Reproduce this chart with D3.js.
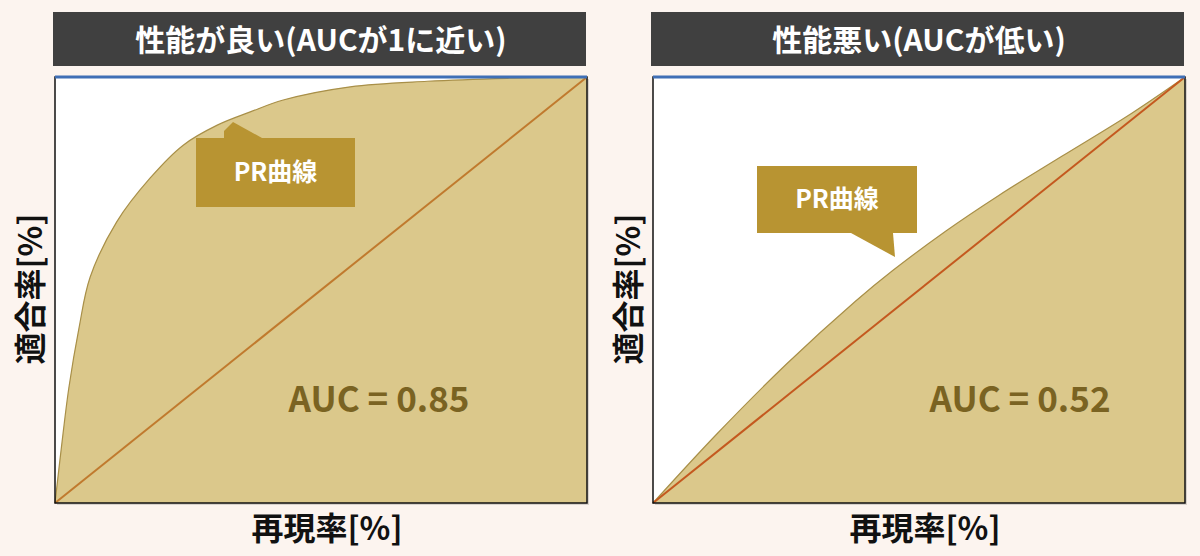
<!DOCTYPE html>
<html>
<head>
<meta charset="utf-8">
<script src="https://cdn.jsdelivr.net/npm/d3@7"></script>
<style>
  html, body { margin: 0; padding: 0; background: #fcf4ef; }
  svg { display: block; }
  text { font-family: "Noto Sans CJK JP", "Noto Sans", sans-serif; font-weight: 700; }
</style>
</head>
<body>
<div id="viz"></div>
<script>
// panel titles and labels
const titles = ['性能が良い(AUCが1に近い)', '性能悪い(AUCが低い)'];
const aucLabels = ['AUC = 0.85', 'AUC = 0.52'];
const xLabel = '再現率[%]';
const yLabel = '適合率[%]';
const calloutLabel = 'PR曲線';

// good model PR curve (recall, precision as fractions)
const goodRecall = [0, 0.012, 0.026, 0.045, 0.066, 0.116, 0.179, 0.241, 0.305, 0.367, 0.429, 0.555, 0.7, 0.85, 1];
const goodPrecision = [0, 0.13, 0.27, 0.41, 0.53, 0.66, 0.763, 0.84, 0.887, 0.918, 0.946, 0.977, 0.99, 0.997, 1];

// poor model PR curve
const badRecall = [0, 0.12, 0.25, 0.38, 0.45, 0.55, 0.65, 0.77, 0.9, 1];
const badPrecision = [0, 0.162, 0.325, 0.473, 0.545, 0.638, 0.722, 0.815, 0.915, 1];

// reference lines
const diagRecall = [0, 1];
const diagPrecision = [0, 1];
const perfectRecall = [0, 1];
const perfectPrecision = [1, 1];

const width = 1200,
    height = 556;

const svg = d3.select('#viz').append('svg')
    .attr('width', width)
    .attr('height', height);

const zip = (xs, ys) => xs.map((x, i) => ({ x: x, y: ys[i] }));

const panels = [
    { left: 55, curve: zip(goodRecall, goodPrecision), diagColor: '#c07a2e', aucAt: 0.609,
      box: [196, 138, 159, 69], pointer: [[224, 138], [224, 131], [233, 122], [262, 138]] },
    { left: 653, curve: zip(badRecall, badPrecision), diagColor: '#c4591f', aucAt: 0.69,
      box: [757, 166, 160, 67], pointer: [[851, 233], [893, 233], [895, 257]] }
];

const plotTop = 77,
    plotBottom = 503,
    plotWidth = 532;

function drawPanel(p, i) {
    const x = d3.scaleLinear().domain([0, 1]).range([p.left, p.left + plotWidth]);
    const y = d3.scaleLinear().domain([0, 1]).range([plotBottom, plotTop]);
    const g = svg.append('g');
    const mid = p.left + plotWidth / 2;

    // title bar
    g.append('rect')
        .attr('x', p.left - 2)
        .attr('y', 12)
        .attr('width', plotWidth + 1)
        .attr('height', 54)
        .attr('fill', '#404040');

    g.append('text')
        .attr('x', mid)
        .attr('y', 40)
        .attr('dy', '0.35em')
        .attr('text-anchor', 'middle')
        .attr('fill', '#fff')
        .attr('font-size', 30)
        .text(titles[i]);

    // plot frame shadow + background
    g.append('rect')
        .attr('x', x(0) + 2)
        .attr('y', y(1) + 2)
        .attr('width', plotWidth)
        .attr('height', plotBottom - plotTop)
        .attr('fill', '#d8d2cc');

    g.append('rect')
        .attr('x', x(0))
        .attr('y', y(1))
        .attr('width', plotWidth)
        .attr('height', plotBottom - plotTop)
        .attr('fill', '#fff');

    const area = d3.area()
        .x(d => x(d.x))
        .y0(y(0))
        .y1(d => y(d.y))
        .curve(d3.curveCatmullRom.alpha(0.5));

    const line = d3.line()
        .x(d => x(d.x))
        .y(d => y(d.y))
        .curve(d3.curveCatmullRom.alpha(0.5));

    g.append('path')
        .attr('d', area(p.curve))
        .attr('fill', '#dbc88b');

    g.append('path')
        .attr('d', line(p.curve))
        .attr('fill', 'none')
        .attr('stroke', '#a88f48')
        .attr('stroke-width', 1.2);

    g.append('path')
        .attr('d', d3.line().x(d => x(d.x)).y(d => y(d.y))(zip(diagRecall, diagPrecision)))
        .attr('stroke', p.diagColor)
        .attr('stroke-width', 2);

    // frame
    g.append('rect')
        .attr('x', x(0))
        .attr('y', y(1))
        .attr('width', plotWidth)
        .attr('height', plotBottom - plotTop)
        .attr('fill', 'none')
        .attr('stroke', '#111')
        .attr('stroke-width', 1.5);

    g.append('path')
        .attr('d', d3.line().x(d => x(d.x)).y(d => y(d.y))(zip(perfectRecall, perfectPrecision)))
        .attr('stroke', '#3f6fb6')
        .attr('stroke-width', 3);

    // callout
    g.append('rect')
        .attr('x', p.box[0])
        .attr('y', p.box[1])
        .attr('width', p.box[2])
        .attr('height', p.box[3])
        .attr('fill', '#b89432');

    g.append('path')
        .attr('d', 'M' + p.pointer.join('L') + 'Z')
        .attr('fill', '#b89432');

    g.append('text')
        .attr('x', p.box[0] + p.box[2] / 2)
        .attr('y', p.box[1] + p.box[3] / 2)
        .attr('dy', '0.35em')
        .attr('text-anchor', 'middle')
        .attr('fill', '#fff')
        .attr('font-size', 25)
        .text(calloutLabel);

    g.append('text')
        .attr('x', x(p.aucAt))
        .attr('y', 412)
        .attr('text-anchor', 'middle')
        .attr('fill', '#7a6322')
        .attr('font-size', 35)
        .text(aucLabels[i]);

    // axis labels
    g.append('text')
        .attr('x', mid + 6)
        .attr('y', 529)
        .attr('dy', '0.35em')
        .attr('text-anchor', 'middle')
        .attr('fill', '#111')
        .attr('font-size', 32)
        .text(xLabel);

    g.append('text')
        .attr('transform', `translate(${p.left - 24}, 289) rotate(-90)`)
        .attr('dy', '0.35em')
        .attr('text-anchor', 'middle')
        .attr('fill', '#111')
        .attr('font-size', 32)
        .text(yLabel);
}

panels.forEach(drawPanel);
</script>
</body>
</html>
